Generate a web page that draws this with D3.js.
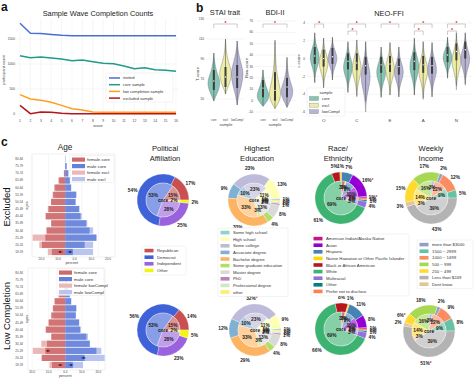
<!DOCTYPE html>
<html>
<head>
<meta charset="utf-8">
<script src="https://d3js.org/d3.v7.min.js"></script>
<style>
  body { margin: 0; background: #fff; }
  svg { display: block; font-family: "Liberation Sans", Arial, sans-serif; }
</style>
</head>
<body>
<script>
"use strict";

// ---------- panel a : wave completion counts
var waves = [1,2,3,4,5,6,7,8,9,10,11,12,13,14,15,16];
var invited        = [1815,1615,1610,1590,1573,1567,1567,1567,1567,1567,1567,1567,1567,1567,1567,1567];
var coreSample     = [1167,1127,1140,1120,1100,1067,1080,1047,1013,1007,960,907,927,887,873,853];
var lowCompletion  = [387,300,273,233,173,107,80,40,33,33,33,33,33,33,33,33];
var excludedSample = [173,7,40,33,13,7,7,7,7,7,7,7,7,7,7,7];
var waveTicks = [0,500,1000,1500];

// ---------- panel b : violins
var sampleGroups = ["core","excl","lowCompl"];
var violinColors = ["#84c5b5","#eeeda6","#b6b4d4"];
// [lo, q1, median, q3, hi]
var staiStats = [[48,59,68,79,96],[55,62,72,82,110],[44,61,72,84,108]];
var staiShape = [[0,.3,.7,.95,1,.8,.5,.3,.15,.05,0],[0,.3,.7,.95,1,.75,.45,.25,.12,.05,0],[0,.15,.4,.7,.9,1,.8,.5,.25,.08,0]];
var staiTicks = [50,70,90,110,130];
var bdiStats = [[-5,3,11,18,27],[-7,0,9,25,53],[-6,3,12,20,38]];
var bdiShape = [[0,.5,.9,1,.85,.6,.4,.25,.12,.04,0],[0,.7,1,.85,.55,.35,.22,.13,.07,.03,0],[0,.4,.8,1,.9,.6,.35,.18,.08,.03,0]];
var bdiTicks = [-10,0,10,20,30,40,50,60,70];
var neoTraits = ["O","C","E","A","N"];
var neoCore = [[-2.7,-0.6,0.3,1.3,2.9],[-3.8,-1.2,-0.3,0.6,1.9],[-4.4,-1.6,-0.7,0.2,1.3],[-4.1,-1.3,-0.3,0.7,2.3],[-2.2,-0.4,0.4,1.3,2.4]];
var neoExcl = [[-3.3,-0.9,0,1,2.3],[-4.3,-1.3,-0.5,0.6,2.1],[-4.1,-1.5,-0.6,0.3,1.8],[-4.6,-1.6,-0.7,0.3,1.9],[-3.5,-0.2,0.8,1.7,2.9]];
var neoLow  = [[-2.4,-0.6,0.2,1.2,2.4],[-6,-1.8,-0.8,0.2,1.9],[-4.3,-1.8,-0.9,0,1.3],[-4.3,-1.7,-0.8,0.2,1.8],[-3,0,1,1.9,2.9]];
var neoShape = [0,.06,.2,.5,.85,1,.85,.5,.2,.06,0];
var neoTicks = [-6,-4,-2,0,2,4];
// significance brackets: [trait, from, to, level]
var staiSig = [["core","lowCompl",0]];
var bdiSig = [["core","lowCompl",0]];
var neoSig = [["O","core","excl",0],["C","core","lowCompl",0],["C","core","excl",1],["E","core","lowCompl",0],
              ["A","core","lowCompl",0],["A","core","excl",1],["N","core","lowCompl",0],["N","core","excl",1]];

// ---------- panel c : age pyramids
var ageGroups = ["80-84","75-79","70-74","65-69","60-64","55-59","50-54","45-49","40-44","35-39","30-34","25-29","20-24","18-19"];
var femaleCore = [0,0,0.8,4,6.5,7.5,8.5,10,11.8,8.5,11,12,14,8];
var maleCore   = [0.2,0.8,1.8,2.8,3.6,6.7,6.3,8.3,9.2,12.7,14.7,18.8,11.7,4.6];
var femaleExcl = [0,0,0.5,3,5.5,6,8.5,10.5,11.5,8,11.5,19.6,15.6,10.5];
var maleExcl   = [0,1,2,3,3.5,6.5,6,8.7,10,13.3,16.8,18.8,16.8,16.8];
var femaleLow  = [0,0,0.5,3.5,6,7,7,10,11.5,8,14.5,19.6,14.5,9.5];
var maleLow    = [0.2,1,1.6,2.5,3.5,6.5,6.5,8.5,9,13.7,15,21.8,23.8,10.7];
var ageMarksExcl = [["18-19",-3],["18-19",3]];
var ageMarksLow  = [["25-29",-10.5],["20-24",11],["18-19",-3],["18-19",3.5]];
var ageTicks = [-20,-10,0,10,20];

// ---------- panel c : donuts
var polCats = ["Republican","Democrat","Independent","Other"];
var polColors = ["#c95050","#3f62d8","#9a62dc","#f4f414"];
var polCore = [15,53,28,2], polExcl = [17,54,25,2], polLow = [14,56,23,5];

var eduCats = ["Some high school","High school","Some college","Associate degree","Bachelor degree",
               "Some graduate education","Master degree","PhD","Professional degree","other"];
var eduColors = ["#8dd3c7","#ffffb3","#bebada","#80b1d3","#fdb462","#b3de69","#d9d9d9","#bc80bd","#ccebc5","#ffed6f"];
var eduCore = [1,11,23,10,33,3,13,2,2,1], eduExcl = [1,13,23,9,33,4,8,1,1,1], eduLow = [1,9,32,12,29,4,8,1,1,1];

var raceCats = ["American Indian/Alaska Native","Asian","Hispanic","Native Hawaiian or Other Pacific Islander",
                "Black or African American","White","Multiracial","Other","Prefer not to disclose"];
var raceColors = ["#c71585","#9400d3","#4682b4","#ffd700","#b8141c","#3cb371","#9370db","#008080","#ff7f50"];
var raceCore = [1,10,9,1,3,69,3,1,2], raceExcl = [1,16,7,1,5,61,4,1,1], raceLow = [1,8,11,1,8,66,4,1,1];

var incCats = ["more than $3000","1500 ~ 2999","1000 ~ 1499","500 ~ 999","250 ~ 499","Less than $249","Dont know"];
var incColors = ["#8da0cb","#66c2a5","#fc8d62","#a6d854","#ffd92f","#b3b3b3","#e5c494"];
var incCore = [3,9,12,16,14,39,3], incExcl = [2,5,12,17,15,43,3], incLow = [2,8,9,18,6,51,2];
var incPieOrder = ["1500 ~ 2999","1000 ~ 1499","more than $3000","500 ~ 999","250 ~ 499","Dont know","Less than $249"];

var svg = d3.select("body").append("svg").attr("width", 474).attr("height", 378);
svg.append("rect").attr("width", 474).attr("height", 378).attr("fill", "#fff");

function txt(g, x, y, s, size, opts) {
  opts = opts || {};
  var t = g.append("text").attr("x", x).attr("y", y).text(s)
    .attr("font-size", size).attr("fill", opts.fill || "#222")
    .attr("text-anchor", opts.anchor || "middle");
  if (opts.bold) t.attr("font-weight", "bold");
  if (opts.rotate) t.attr("transform", "rotate(-90," + x + "," + y + ")");
  return t;
}

// panel letters
txt(svg, 1, 11, "a", 12, {anchor: "start", bold: true, fill: "#111"});
txt(svg, 196, 12, "b", 12, {anchor: "start", bold: true, fill: "#111"});
txt(svg, 1, 146, "c", 12, {anchor: "start", bold: true, fill: "#111"});

/* ---------------- panel a ---------------- */
var gA = svg.append("g");
var xA = d3.scaleLinear().domain([1, 16]).range([20, 176]);
var yA = d3.scaleLinear().domain([0, 1500]).range([114, 39]);
gA.selectAll(".vg").data(waves).join("line")
  .attr("x1", function (d) { return xA(d); }).attr("x2", function (d) { return xA(d); })
  .attr("y1", 19).attr("y2", 117).attr("stroke", "#ececec").attr("stroke-width", 0.5);
gA.selectAll(".hg").data(waveTicks).join("line")
  .attr("x1", 17).attr("x2", 179)
  .attr("y1", function (d) { return yA(d); }).attr("y2", function (d) { return yA(d); })
  .attr("stroke", "#ececec").attr("stroke-width", 0.5);
gA.selectAll(".xt").data(waves).join("text")
  .attr("x", function (d) { return xA(d); }).attr("y", 122).attr("text-anchor", "middle")
  .attr("font-size", 3.3).attr("fill", "#444").text(function (d) { return d; });
gA.selectAll(".yt").data(waveTicks).join("text")
  .attr("x", 15).attr("y", function (d) { return yA(d) + 1.2; }).attr("text-anchor", "end")
  .attr("font-size", 3.3).attr("fill", "#444").text(function (d) { return d; });
txt(gA, 98, 127, "wave", 4, {fill: "#444"});
txt(gA, 5, 70, "participant count", 4, {fill: "#444", rotate: true});
txt(gA, 98, 16, "Sample Wave Completion Counts", 7.4, {fill: "#222"});

var seriesA = [
  {name: "invited", values: invited, color: "#4a6fd4"},
  {name: "core sample", values: coreSample, color: "#1f9c88"},
  {name: "low completion sample", values: lowCompletion, color: "#ff9e1f"},
  {name: "excluded sample", values: excludedSample, color: "#b3161f"}
];
var lineA = d3.line().x(function (d, i) { return xA(waves[i]); }).y(function (d) { return yA(d); });
seriesA.forEach(function (s) {
  gA.append("path").attr("d", lineA(s.values)).attr("fill", "none")
    .attr("stroke", s.color).attr("stroke-width", 1.5);
});
gA.append("rect").attr("x", 106).attr("y", 73).attr("width", 67).attr("height", 29)
  .attr("fill", "#fff").attr("stroke", "#ddd").attr("stroke-width", 0.4).attr("rx", 1);
seriesA.forEach(function (s, i) {
  var y = 78 + i * 6.7;
  gA.append("line").attr("x1", 109).attr("x2", 120).attr("y1", y).attr("y2", y)
    .attr("stroke", s.color).attr("stroke-width", 1.5);
  txt(gA, 123, y + 1.4, s.name, 4, {anchor: "start", fill: "#333"});
});

/* ---------------- panel b ---------------- */
var gB = svg.append("g");

function violin(g, cx, y, hw, st, shape, color) {
  var n = shape.length;
  var pts = shape.map(function (w, i) { return {v: st[0] + (st[4] - st[0]) * i / (n - 1), w: w}; });
  var area = d3.area().y(function (d) { return y(d.v); })
    .x0(function (d) { return cx - d.w * hw; }).x1(function (d) { return cx + d.w * hw; })
    .curve(d3.curveBasis);
  g.append("path").attr("d", area(pts)).attr("fill", color).attr("stroke", "#6d6d6d").attr("stroke-width", 0.4);
  var iqr = st[3] - st[1];
  var wlo = Math.max(st[0], st[1] - 1.5 * iqr), whi = Math.min(st[4], st[3] + 1.5 * iqr);
  g.append("line").attr("x1", cx).attr("x2", cx).attr("y1", y(wlo)).attr("y2", y(whi))
    .attr("stroke", "#3d3d3d").attr("stroke-width", 0.5);
  g.append("rect").attr("x", cx - 1).attr("width", 2).attr("y", y(st[3])).attr("height", y(st[1]) - y(st[3]))
    .attr("fill", "#3d3d3d");
  g.append("circle").attr("cx", cx).attr("cy", y(st[2])).attr("r", 0.7).attr("fill", "#fff");
}

function bracket(g, x1, x2, level) {
  var yb = 24 + level * 7;
  g.append("path").attr("d", "M" + x1 + "," + (yb + 4) + "V" + yb + "H" + x2 + "V" + (yb + 4))
    .attr("fill", "none").attr("stroke", "#999").attr("stroke-width", 0.5);
  txt(g, (x1 + x2) / 2, yb + 0.5, "*", 5, {fill: "#e0262a", bold: true});
}

function gridY(g, y, ticks, x0, x1, labelX) {
  g.selectAll(null).data(ticks).join("line")
    .attr("x1", x0).attr("x2", x1)
    .attr("y1", function (d) { return y(d); }).attr("y2", function (d) { return y(d); })
    .attr("stroke", "#ebebeb").attr("stroke-width", 0.5);
  g.selectAll(null).data(ticks).join("text")
    .attr("x", labelX).attr("y", function (d) { return y(d) + 1.1; }).attr("text-anchor", "end")
    .attr("font-size", 3.2).attr("fill", "#444").text(function (d) { return d; });
}

// STAI trait
var yS = d3.scaleLinear().domain([50, 130]).range([99, 19]);
var xS = d3.scaleBand().domain(sampleGroups).range([208, 243]);
gridY(gB, yS, staiTicks, 206, 245, 204);
sampleGroups.forEach(function (g, i) {
  violin(gB, xS(g) + xS.bandwidth() / 2, yS, 6, staiStats[i], staiShape[i], violinColors[i]);
  txt(gB, xS(g) + xS.bandwidth() / 2, 121, g, 2.8, {fill: "#444"});
});
staiSig.forEach(function (s) {
  bracket(gB, xS(s[0]) + xS.bandwidth() / 2, xS(s[1]) + xS.bandwidth() / 2, s[2]);
});
txt(gB, 225, 15, "STAI trait", 7.4);
txt(gB, 226, 126, "sample", 4, {fill: "#444"});
txt(gB, 199, 74, "T-score", 4.2, {fill: "#444", rotate: true});

// BDI-II
var yBd = d3.scaleLinear().domain([-10, 70]).range([112, 21]);
var xBd = d3.scaleBand().domain(sampleGroups).range([257, 293]);
gridY(gB, yBd, bdiTicks, 255, 296, 253);
sampleGroups.forEach(function (g, i) {
  violin(gB, xBd(g) + xBd.bandwidth() / 2, yBd, 6, bdiStats[i], bdiShape[i], violinColors[i]);
  txt(gB, xBd(g) + xBd.bandwidth() / 2, 121, g, 2.8, {fill: "#444"});
});
bdiSig.forEach(function (s) {
  bracket(gB, xBd(s[0]) + xBd.bandwidth() / 2, xBd(s[1]) + xBd.bandwidth() / 2, s[2]);
});
txt(gB, 275, 15, "BDI-II", 7.4);
txt(gB, 275, 126, "sample", 4, {fill: "#444"});
txt(gB, 248, 68, "Raw-score", 4.2, {fill: "#444", rotate: true});

// NEO-FFI
var yN = d3.scaleLinear().domain([-6, 4]).range([112, 23]);
var xN = d3.scaleBand().domain(neoTraits).range([307, 473]);
var dodge = xN.bandwidth() * 0.8 / 3;
function neoX(trait, grp) { return xN(trait) + xN.bandwidth() / 2 + (sampleGroups.indexOf(grp) - 1) * dodge; }
gridY(gB, yN, neoTicks, 307, 473, 305);
var neoSets = [neoCore, neoExcl, neoLow];
neoTraits.forEach(function (t, ti) {
  sampleGroups.forEach(function (g, gi) {
    violin(gB, neoX(t, g), yN, 4.6, neoSets[gi][ti], neoShape, violinColors[gi]);
  });
  txt(gB, xN(t) + xN.bandwidth() / 2, 122, t, 4.4, {fill: "#444"});
});
neoSig.forEach(function (s) { bracket(gB, neoX(s[0], s[1]), neoX(s[0], s[2]), s[3]); });
txt(gB, 389, 16, "NEO-FFI", 7.4);
txt(gB, 300, 61, "z-score", 4.2, {fill: "#444", rotate: true});
// sample legend
gB.append("rect").attr("x", 307).attr("y", 88).attr("width", 38).attr("height", 28)
  .attr("fill", "#fff").attr("fill-opacity", 0.85).attr("stroke", "#ddd").attr("stroke-width", 0.4).attr("rx", 1);
txt(gB, 326, 93.5, "sample", 4, {fill: "#333"});
sampleGroups.forEach(function (g, i) {
  var y = 98.5 + i * 6.6;
  gB.append("rect").attr("x", 309.5).attr("y", y - 2).attr("width", 9).attr("height", 4)
    .attr("fill", violinColors[i]).attr("stroke", "#6d6d6d").attr("stroke-width", 0.3);
  txt(gB, 322, y + 1.4, g, 4, {anchor: "start", fill: "#333"});
});

/* ---------------- panel c : age pyramids ---------------- */
function pyramid(top, bottom, x0, x1, domain, fExt, mExt, extName, marks, labelShift, legendY, rowLabel, rowLabelY) {
  var g = svg.append("g");
  var x = d3.scaleLinear().domain(domain).range([x0, x1]);
  var y = d3.scaleBand().domain(ageGroups).range([top, bottom]).padding(0.13);
  g.append("rect").attr("x", x0).attr("y", top - 1).attr("width", x1 - x0).attr("height", bottom - top + 2)
    .attr("fill", "none").attr("stroke", "#e3e3e3").attr("stroke-width", 0.5);
  g.selectAll(null).data(ageTicks).join("line")
    .attr("x1", function (d) { return x(d); }).attr("x2", function (d) { return x(d); })
    .attr("y1", top - 1).attr("y2", bottom + 1).attr("stroke", "#ececec").attr("stroke-width", 0.5);
  var layers = [
    [fExt, -1, extName === "excl" ? "#ebb8b8" : "#ebb8b8"],
    [mExt, 1, "#b9c4ef"],
    [femaleCore, -1, "#cd6a6c"],
    [maleCore, 1, "#6482d9"]
  ];
  layers.forEach(function (L) {
    g.selectAll(null).data(L[0]).join("rect")
      .attr("y", function (d, i) { return y(ageGroups[i]); }).attr("height", y.bandwidth())
      .attr("x", function (d) { return L[1] < 0 ? x(-d) : x(0); })
      .attr("width", function (d) { return Math.abs(x(d) - x(0)); })
      .attr("fill", L[2]).attr("fill-opacity", L === layers[2] || L === layers[3] ? 0.88 : 1);
  });
  marks.forEach(function (m) {
    var cy = y(m[0]) + y.bandwidth() / 2, cx = x(m[1]);
    var c = m[1] < 0 ? "#7a1212" : "#1b2a80";
    g.append("line").attr("x1", cx - 2.5).attr("x2", cx + 2.5).attr("y1", cy).attr("y2", cy)
      .attr("stroke", c).attr("stroke-width", 0.5);
    g.append("circle").attr("cx", cx).attr("cy", cy).attr("r", 1.1).attr("fill", c);
  });
  g.selectAll(null).data(ageGroups).join("text")
    .attr("x", 23).attr("y", function (d) { return y(d) + y.bandwidth() / 2 + 1; })
    .attr("text-anchor", "end").attr("font-size", 3).attr("fill", "#444").text(function (d) { return d; });
  g.selectAll(null).data(ageTicks).join("text")
    .attr("x", function (d) { return x(d) + labelShift; }).attr("y", bottom + 4)
    .attr("text-anchor", "middle").attr("font-size", 3).attr("fill", "#444")
    .text(function (d) { return Math.abs(d).toFixed(1); });
  txt(g, x(0) + labelShift * 0.7, bottom + 7.5, "percent", 3.8, {fill: "#444"});
  txt(g, 27.5, (top + bottom) / 2, "ages", 3.8, {fill: "#444", rotate: true});
  txt(g, 10, rowLabelY, rowLabel, 9.5, {fill: "#111", rotate: true});
  // legend
  var names = ["female core", "male core", "female " + extName, "male " + extName];
  var cols = ["#cd6a6c", "#6482d9", "#ebb8b8", "#b9c4ef"];
  var lw = extName === "excl" ? 44 : 47;
  g.append("rect").attr("x", x1 - lw - 1).attr("y", legendY - 4).attr("width", lw).attr("height", 27)
    .attr("fill", "#fff").attr("fill-opacity", 0.85).attr("stroke", "#e0e0e0").attr("stroke-width", 0.4).attr("rx", 1);
  names.forEach(function (nm, i) {
    var yy = legendY + i * 6.5;
    g.append("rect").attr("x", x1 - lw + 1).attr("y", yy - 2).attr("width", 13).attr("height", 4.2).attr("fill", cols[i]);
    txt(g, x1 - lw + 16, yy + 1.5, nm, 4.4, {anchor: "start", fill: "#333"});
  });
}
txt(svg, 65, 150, "Age", 8.2);
pyramid(155, 256, 32, 115, [-20, 30], femaleExcl, maleExcl, "excl", ageMarksExcl, 9.5, 159.5, "Excluded", 207);
pyramid(269, 369, 28, 105, [-22.5, 24], femaleLow, maleLow, "lowCompl", ageMarksLow, 0, 272.5, "Low Completion", 316);

/* ---------------- panel c : donuts ---------------- */
var pieGen = d3.pie().sort(null).startAngle(Math.PI / 2).endAngle(Math.PI / 2 - 2 * Math.PI);
function donut(cx, cy, colors, core, outer, starred) {
  var g = svg.append("g").attr("transform", "translate(" + cx + "," + cy + ")");
  var R = 26, r = 17;
  var arcO = d3.arc().innerRadius(r).outerRadius(R);
  var arcI = d3.arc().innerRadius(0).outerRadius(r);
  var lblO = d3.arc().innerRadius(32).outerRadius(32);
  var lblI = d3.arc().innerRadius(11).outerRadius(11);
  var po = pieGen(outer), pi = pieGen(core);
  g.selectAll(null).data(po).join("path").attr("d", arcO)
    .attr("fill", function (d, i) { return colors[i]; }).attr("stroke", "#fff").attr("stroke-width", 0.3);
  g.selectAll(null).data(pi).join("path").attr("d", arcI)
    .attr("fill", function (d, i) { return d3.interpolateRgb(colors[i], "#fff")(0.38); })
    .attr("stroke", "#fff").attr("stroke-width", 0.3);
  po.forEach(function (d, i) {
    var c = lblO.centroid(d);
    var t = txt(g, c[0], c[1] + 1.7, d.data + "%", 4.8, {bold: true, fill: "#222"});
    if (starred.indexOf(i) >= 0) t.append("tspan").attr("fill", "#e0262a").text("*");
  });
  pi.forEach(function (d) {
    var c = lblI.centroid(d);
    txt(g, c[0], c[1] + 1.7, d.data + "%", 4.8, {bold: true, fill: "#222"});
  });
  txt(g, 0, 1.7, "core", 4.8, {bold: true, fill: "#111"});
}
function legendBox(x, y, w, cats, colors, fs) {
  var g = svg.append("g");
  g.append("rect").attr("x", x).attr("y", y).attr("width", w).attr("height", cats.length * 6.6 + 2.5)
    .attr("fill", "#fff").attr("stroke", "#e0e0e0").attr("stroke-width", 0.4).attr("rx", 1);
  cats.forEach(function (c, i) {
    var yy = y + 4.6 + i * 6.6;
    g.append("rect").attr("x", x + 2.5).attr("y", yy - 1.8).attr("width", 9).attr("height", 3.6).attr("fill", colors[i]);
    txt(g, x + 15, yy + 1.5, c, fs, {anchor: "start", fill: "#333"});
  });
}

txt(svg, 165, 151, "Political", 7.6);
txt(svg, 165, 160.5, "Affiliation", 7.6);
donut(163, 200, polColors, polCore, polExcl, []);
donut(163, 330, polColors, polCore, polLow, []);
legendBox(142, 246, 44, polCats, polColors, 4.3);

txt(svg, 257, 151, "Highest", 7.6);
txt(svg, 257, 160.5, "Education", 7.6);
donut(254, 200, eduColors, eduCore, eduExcl, []);
donut(255, 330, eduColors, eduCore, eduLow, [2]);
legendBox(218, 228, 70, eduCats, eduColors, 4.3);

txt(svg, 338, 151, "Race/", 7.6);
txt(svg, 338, 160.5, "Ethnicity", 7.6);
donut(341, 198, raceColors, raceCore, raceExcl, [0, 1]);
donut(341, 329, raceColors, raceCore, raceLow, []);
legendBox(311, 234, 98, raceCats, raceColors, 4.3);

function incOrder(vals) { return incPieOrder.map(function (c) { return vals[incCats.indexOf(c)]; }); }
var incPieColors = incPieOrder.map(function (c) { return incColors[incCats.indexOf(c)]; });
txt(svg, 431, 151, "Weekly", 7.6);
txt(svg, 431, 160.5, "Income", 7.6);
donut(431, 198, incPieColors, incOrder(incCore), incOrder(incExcl), []);
donut(429, 331, incPieColors, incOrder(incCore), incOrder(incLow),
      [incPieOrder.indexOf("250 ~ 499"), incPieOrder.indexOf("Less than $249")]);
legendBox(417, 240, 56, incCats, incColors, 4.3);
</script>
</body>
</html>
